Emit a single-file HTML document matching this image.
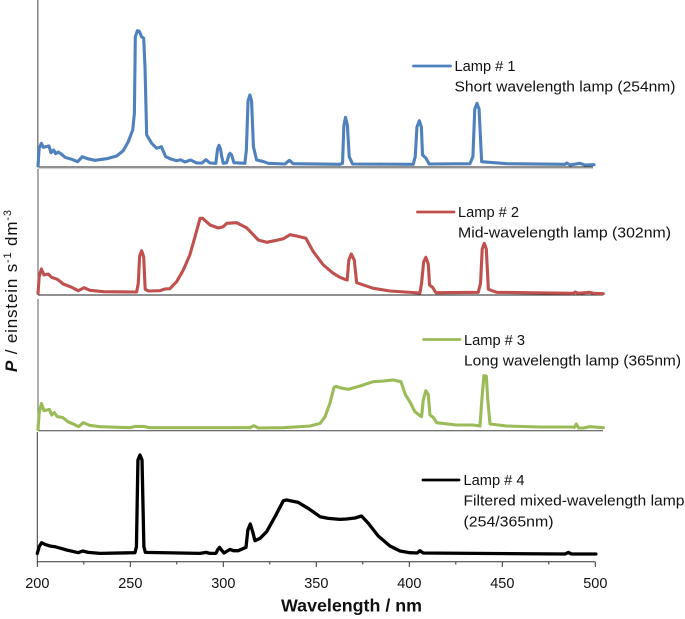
<!DOCTYPE html>
<html lang="en">
<head>
<meta charset="utf-8">
<title>Lamp spectra</title>
<style>
html,body{margin:0;padding:0;background:#fff;overflow:hidden;}
svg{display:block;filter:blur(0.35px);}
text{font-family:"Liberation Sans",sans-serif;fill:#111;}
</style>
</head>
<body>
<svg id="chart" width="685" height="619" viewBox="0 0 685 619" xmlns="http://www.w3.org/2000/svg">
  <g id="axes">
    <line x1="37.8" y1="0" x2="37.8" y2="167.5" stroke="#808080" stroke-width="1.5"/>
    <line x1="38" y1="167" x2="593" y2="167" stroke="#222" stroke-width="1"/>
    <line x1="38" y1="168.6" x2="593" y2="168.6" stroke="#ccc" stroke-width="1"/>
    <line x1="38" y1="169" x2="38" y2="295" stroke="#555" stroke-width="1"/>
    <line x1="38" y1="295" x2="603" y2="295" stroke="#222" stroke-width="1"/>
    <line x1="38" y1="299" x2="38" y2="431" stroke="#777" stroke-width="1.2"/>
    <line x1="38" y1="430.7" x2="603" y2="430.7" stroke="#444" stroke-width="1"/>
    <line x1="37.3" y1="432" x2="37.3" y2="562" stroke="#333" stroke-width="1"/>
    <line x1="37.3" y1="561.7" x2="595.3" y2="561.7" stroke="#333" stroke-width="1"/>
  </g>
  <g id="ticks"></g>
  <g id="tick-labels"></g>

  <polyline id="lamp1" fill="none" stroke="#4f81bd" stroke-width="3.1" stroke-linejoin="round" stroke-linecap="round"/>
  <polyline id="lamp2" fill="none" stroke="#c0504d" stroke-width="3.1" stroke-linejoin="round" stroke-linecap="round"/>
  <polyline id="lamp3" fill="none" stroke="#9bbb59" stroke-width="3.1" stroke-linejoin="round" stroke-linecap="round"/>
  <polyline id="lamp4" fill="none" stroke="#000" stroke-width="3.3" stroke-linejoin="round" stroke-linecap="round"/>

  <g font-size="14.5">
    <line x1="413.5" y1="66" x2="450.5" y2="66" stroke="#4f81bd" stroke-width="2.8" stroke-linecap="round"/>
    <text x="454.5" y="71" textLength="61" lengthAdjust="spacingAndGlyphs">Lamp # 1</text>
    <text x="454.5" y="91.5" textLength="221" lengthAdjust="spacingAndGlyphs">Short wavelength lamp (254nm)</text>
  </g>
  <g font-size="14.5">
    <line x1="417.5" y1="212" x2="454" y2="212" stroke="#c0504d" stroke-width="2.8" stroke-linecap="round"/>
    <text x="458" y="217" textLength="61" lengthAdjust="spacingAndGlyphs">Lamp # 2</text>
    <text x="458" y="237.5" textLength="213" lengthAdjust="spacingAndGlyphs">Mid-wavelength lamp (302nm)</text>
  </g>
  <g font-size="14.5">
    <line x1="423.5" y1="339.5" x2="460" y2="339.5" stroke="#9bbb59" stroke-width="2.8" stroke-linecap="round"/>
    <text x="464" y="345" textLength="61" lengthAdjust="spacingAndGlyphs">Lamp # 3</text>
    <text x="464" y="365.5" textLength="217" lengthAdjust="spacingAndGlyphs">Long wavelength lamp (365nm)</text>
  </g>
  <g font-size="14.5">
    <line x1="423" y1="480" x2="459" y2="480" stroke="#000" stroke-width="2.8" stroke-linecap="round"/>
    <text x="463.5" y="485" textLength="61" lengthAdjust="spacingAndGlyphs">Lamp # 4</text>
    <text x="463.5" y="505.5" textLength="221" lengthAdjust="spacingAndGlyphs">Filtered mixed-wavelength lamp</text>
    <text x="463.5" y="526.5" textLength="90" lengthAdjust="spacingAndGlyphs">(254/365nm)</text>
  </g>

  <text x="351.5" y="611.5" text-anchor="middle" font-size="17.5" font-weight="bold" textLength="141" lengthAdjust="spacingAndGlyphs">Wavelength / nm</text>
  <text transform="translate(17,372) rotate(-90)" font-size="17" textLength="162" lengthAdjust="spacing"><tspan font-weight="bold" font-style="italic">P</tspan><tspan> /  einstein s</tspan><tspan font-size="11" dy="-6">-1</tspan><tspan dy="6"> dm</tspan><tspan font-size="11" dy="-6">-3</tspan></text>
</svg>

<script>
var tickLabels = ["200", "250", "300", "350", "400", "450", "500"];
var tickValues = [200, 225, 250, 275, 300, 325, 350, 375, 400, 425, 450, 475, 500];

var lamp1Wavelengths = [200.4,201,202.2,203.2,204.5,206.3,207.3,208.8,209.9,211.3,213.1,214.9,218.5,221.7,224.2,226.9,231,237.3,242.7,246.2,248.9,251.3,252.2,252.7,253.8,254.9,256,257.2,257.9,258.8,261.5,264.2,266.7,269,272.2,275,277,279.4,282.4,285.7,288.5,290.7,292.8,296,296.9,297.7,298.5,299.2,300,301.8,303,303.6,304.5,305.7,311.6,312.4,313.3,314.3,315.2,316.2,317.9,321.1,324.2,333.2,335.5,337.6,362.7,364.1,364.8,365.7,366.7,367.7,369.5,402.1,403.2,404.1,405.4,406.5,407.1,408.9,410.7,432.6,434.2,435.2,436.4,437.5,438.9,452.3,483.7,484.7,486.4,491.7,494.4,499.3];
var lamp1Values = [1,18.7,23.7,19.7,20.3,21,14.3,17,13.3,15,12.7,9.7,7.7,5.3,10.3,8.3,6.7,8.3,11,16.3,25.3,37,53.7,130.3,136.3,135.7,130.3,128.7,100,32,23.7,18.7,20.3,10.3,7.7,6.3,7.3,5,7,4,4,7.3,4,3.7,18,21.7,18,10,3.7,4.3,12,13.7,12,4.3,3.7,17,66,72,66,20.3,7,5.7,3.7,3,6.7,3.3,2.7,3.7,41,49.7,42,10.3,3,2.7,10.3,40,46.3,40,12,9,3,3.3,10.3,58,63.7,58,5.3,3.3,2.7,4,2,3.7,2,2.3];

var lamp2Wavelengths = [200.4,201,202.2,203.6,205.9,207.7,210.8,214,218.5,222,225.1,228.3,235.5,253.4,254.3,255,256.1,257.2,258,259.7,265.9,268.6,271.3,274.9,278.5,282,284.8,287.5,288.9,292.9,297.3,300,301.8,307.2,312.5,318.8,323.3,328.7,332.3,335.9,339.4,344.4,348.4,353.8,359.1,362.7,365.4,366.6,367.5,368.8,370.4,371.7,380.6,389.6,405.7,406.6,407.7,408.9,410.2,410.9,412.5,414.3,437.1,438.3,439.2,440.3,441.4,442.5,447,488.1,489.2,490.8,496.8,498.9,504.3];
var lamp2Values = [1.7,18.3,26,20,21,17.7,15.7,11,7.7,4.3,7.3,4.7,3.3,3,11.7,39,44.3,38,5.7,4,4.3,6,6.3,13.3,25,40,58.3,76.7,76.7,70,67,68.3,71.7,72.3,67.3,55,52.7,54.7,56.3,60.3,59,56.7,43.3,30,21.7,17.7,15.7,15,35,41,35,12.3,6.7,4,2,11.7,33,37.7,31,10,7.7,2.3,2.7,11.7,46,51.7,46,5.7,2.7,1.7,3,1.7,2.7,1.7,1.3];

var lamp3Wavelengths = [200.4,201,202.2,203.6,206.5,207.7,209.1,210.8,213.6,216.7,219.4,222.2,224.7,228.3,233.7,249.8,252.5,257,260.6,287.5,314.3,316.5,318.8,332.3,346.7,352,354.7,357.3,359.5,360.6,362.7,367.2,373.5,380.6,386,391.4,395.5,398,400.3,403,406.6,407.5,408.9,410.2,411.1,412.9,414.7,425.4,434.4,438,439,440.1,441.4,442.2,443.4,452.3,470.2,487.2,488.7,489.8,491,493.5,497.1,504.3];
var lamp3Values = [1.3,17.3,27.3,20,21.3,15.7,18,14,13.3,8.7,6.7,4,8,5.3,4,3,4.3,4.3,3,3,3,5,2.7,3,4.7,7.3,14,27.3,43.3,44.3,43,41.3,44.7,49,49.7,50.7,49,35.7,29,19,14,30.7,40,36,15.7,13.3,8,5.7,5.7,4.7,30.7,55,54.7,30.7,6.7,4.7,3.7,3.7,3.3,6.7,2.7,2.7,4,3];

var lamp4Wavelengths = [200,201,202.3,204.1,206.8,209.5,215.8,222,224.4,227.4,233.7,252.5,253.3,254.1,255.2,256.3,257.3,258.1,287.5,290.7,292.8,296,297.1,298,299,300.4,303.6,305.4,308,312.2,313.2,314.5,315.8,317,319.7,323.3,327.8,332.3,334,340.3,345.7,352,356.5,362.7,366.3,370.8,374.3,378,383.3,389.6,395,400.3,404.3,405.7,407.5,434.4,483.7,485.6,487.2,500.3];
var lamp4Values = [8.3,15,19,17.3,15.7,15,11.7,9,10.7,9.3,8.3,9,15,101.7,106.7,101.7,15,9.3,8.3,9.3,8.3,8.3,12.3,14.3,11.7,8.7,12.3,11,11,14.3,31.7,37.7,30,21,23.3,30,45,61,61.7,59.3,53.3,45,43.3,42.3,42.7,43.7,45.7,38.3,25.7,15.7,10.7,9,8.7,11,8.7,8.3,7.7,9.3,7.7,7.7];

function xScale(w) { return 37.3 + (w - 200) * 1.86; }
function yScale(v, baseline) { return baseline - v; }

function drawSeries(id, wavelengths, values, baseline) {
  var pts = [];
  for (var i = 0; i < wavelengths.length; i++) {
    pts.push(xScale(wavelengths[i]).toFixed(2) + ',' + yScale(values[i], baseline).toFixed(2));
  }
  document.getElementById(id).setAttribute('points', pts.join(' '));
}

drawSeries('lamp1', lamp1Wavelengths, lamp1Values, 167);
drawSeries('lamp2', lamp2Wavelengths, lamp2Values, 295);
drawSeries('lamp3', lamp3Wavelengths, lamp3Values, 430.7);
drawSeries('lamp4', lamp4Wavelengths, lamp4Values, 561.7);

var NS = 'http://www.w3.org/2000/svg';
var ticksGroup = document.getElementById('ticks');
tickValues.forEach(function (t, i) {
  var major = i % 2 === 0;
  var line = document.createElementNS(NS, 'line');
  
  
  line.setAttribute('x1', xScale(t));
  line.setAttribute('x2', xScale(t));
  line.setAttribute('y1', 561.7);
  line.setAttribute('y2', major ? 567 : 564.5);
  line.setAttribute('stroke', '#333');
  line.setAttribute('stroke-width', '1');
  ticksGroup.appendChild(line);
});

var labelsGroup = document.getElementById('tick-labels');
tickLabels.forEach(function (label) {
  var text = document.createElementNS(NS, 'text');
  
  
  text.setAttribute('x', xScale(Number(label)));
  text.setAttribute('y', 588);
  text.setAttribute('text-anchor', 'middle');
  text.setAttribute('font-size', '14.5');
  text.textContent = label;
  labelsGroup.appendChild(text);
});
</script>
</body>
</html>
